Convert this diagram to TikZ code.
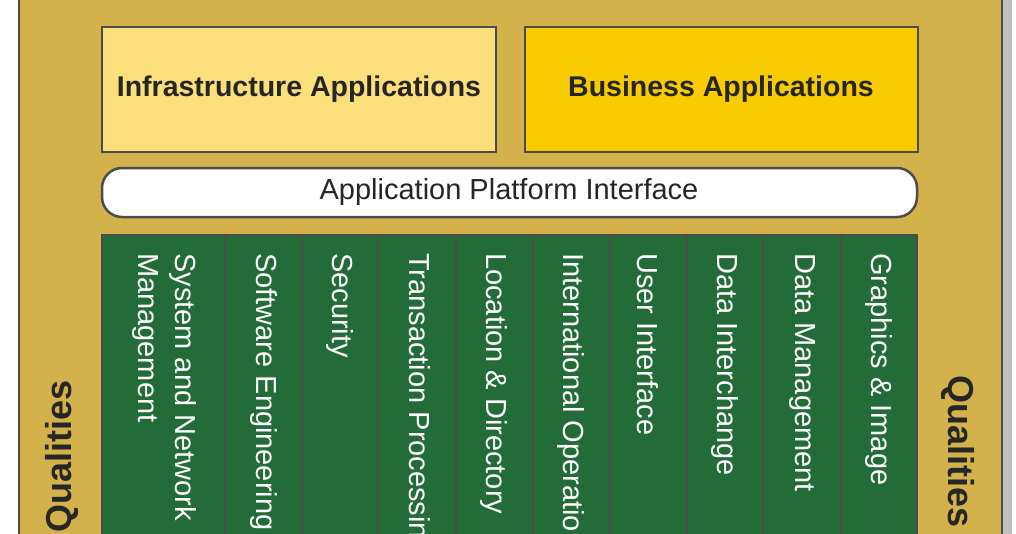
\documentclass[tikz,border=0pt]{standalone}
\usepackage{fontspec}
\setmainfont{Liberation Sans}
\begin{document}
\begin{tikzpicture}[x=1pt,y=-1pt,
  bx/.style={draw=black!70,line width=2.5pt},
  col/.style={bx,fill=dkgreen},
  coltext/.style={rotate=-90,anchor=west,text=white,align=left,font=\fontsize{29}{37}\selectfont,inner sep=0pt},
  lbl/.style={text=black!85,font=\fontsize{28.5}{32}\selectfont\bfseries},
  qual/.style={text=black!85,font=\fontsize{36}{40}\selectfont\bfseries,inner sep=0pt}]
\definecolor{outer}{HTML}{D3B14B}
\definecolor{infra}{HTML}{FBDF7A}
\definecolor{busi}{HTML}{F8CB00}
\definecolor{dkgreen}{HTML}{236B37}
\useasboundingbox (0,0) rectangle (1016,533);
\fill[black!25] (1002,-5) rectangle (1012,545);
\draw[bx,fill=outer] (19,-10) rectangle (1002,545);
\draw[bx,fill=infra] (102,27) rectangle (496,152);
\node[lbl] (infra) at (299,89) {Infrastructure Applications};
\draw[bx,fill=busi] (525,27) rectangle (918,152);
\node[lbl] (busi) at (721,89) {Business Applications};
\draw[bx,fill=white,rounded corners=20pt] (102,168) rectangle (917,217);
\node[text=black!85,font=\fontsize{29}{32}\selectfont] (api) at (509,192) {Application Platform Interface};
\foreach \a/\b in {102/225,225/302,302/378,378/456,456/533,533/610,610/687,687/763,763/841,841/917}
  \draw[col] (\a,235) rectangle (\b,560);
\node[coltext] (c1) at (164,253) {System and Network\\Management};
\node[coltext] (c2) at (264,253) {Software Engineering};
\node[coltext] (c3) at (340,253) {Security};
\node[coltext] (c4) at (417,253) {Transaction Processing};
\node[coltext] (c5) at (494,253) {Location \& Directory};
\node[coltext] (c6) at (571,253) {International Operation};
\node[coltext] (c7) at (648,253) {User Interface};
\node[coltext] (c8) at (725,253) {Data Interchange};
\node[coltext] (c9) at (802,253) {Data Management};
\node[coltext] (c10) at (879,253) {Graphics \& Image};
\node[qual,rotate=90,anchor=east] (ql) at (62,380) {Qualities};
\node[qual,rotate=-90,anchor=west] (qr) at (958,375) {Qualities};
\end{tikzpicture}
\end{document}
